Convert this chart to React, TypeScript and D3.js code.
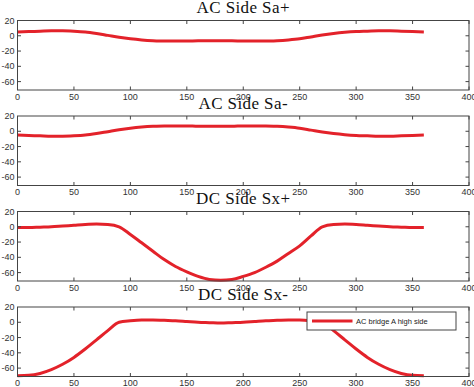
import React from "react";
import * as d3 from "d3";

// angle in degrees, one sample every 10 degrees
const angles = [
  0, 10, 20, 30, 40, 50, 60, 70, 80, 90, 100, 110, 120, 130, 140, 150, 160, 170, 180,
  190, 200, 210, 220, 230, 240, 250, 260, 270, 280, 290, 300, 310, 320, 330, 340, 350, 360,
];

const saPlus = [
  5, 5.5, 6, 6.5, 6.5, 6, 5, 3, 0.5, -2, -4, -5.5, -6.5, -7, -7, -7, -6.5, -6.5, -6.5,
  -6.5, -7, -7, -7, -6.5, -5.5, -4, -1.5, 1, 3, 4.5, 5.5, 6, 6.5, 6.5, 6, 5.5, 5,
];

const saMinus = [
  -5, -5.5, -6, -6.5, -6.5, -6, -5, -3, -0.5, 2, 4, 5.5, 6.5, 7, 7, 7, 6.5, 6.5, 6.5,
  6.5, 7, 7, 7, 6.5, 5.5, 4, 1.5, -1, -3, -4.5, -5.5, -6, -6.5, -6.5, -6, -5.5, -5,
];

const sxPlus = [
  -1, -1, -0.5, 0, 1, 2, 3, 3.5, 3, 0, -10, -21, -32, -43, -52, -59, -65, -69, -70,
  -69, -65, -60, -53, -45, -35, -25, -12, 0, 3, 3.5, 3, 2, 1, 0, -0.5, -1, -1,
];

const sxMinus = [
  -70, -69.5, -67, -62, -55, -46, -35, -23, -11, 0, 2, 3, 3, 2.5, 2, 1, 0, -0.5, -1,
  -0.5, 0, 1, 2, 2.5, 3, 3, 2, 0, -11, -23, -35, -46, -55, -62, -67, -69.5, -70,
];

const titles = ["AC Side Sa+", "AC Side Sa-", "DC Side Sx+", "DC Side Sx-"];
const series = [saPlus, saMinus, sxPlus, sxMinus];
const xTicks = [0, 50, 100, 150, 200, 250, 300, 350, 400];
const yTicks = [-60, -40, -20, 0, 20];
const legendLabel = "AC bridge A high side";

const W = 474;
const H = 387;
const left = 17.5;
const right = 469;
const panelTop = 20.5;
const panelStep = 95.5;
const panelH = 69.5;
const red = "#e3222a";
const axisColor = "#444";

function Panel({ idx }: { idx: number }) {
  const top = panelTop + panelStep * idx;
  const x = d3.scaleLinear().domain([0, 400]).range([left, right]);
  const y = d3.scaleLinear().domain([-71, 20]).range([top + panelH, top]);
  const line = d3
    .line<number>()
    .x((_, i) => x(angles[i]))
    .y((d) => y(d))
    .curve(d3.curveMonotoneX);
  const tl = 3.5;
  return (
    <g>
      <rect x={left} y={top} width={right - left} height={panelH} fill="white" />
      <path d={line(series[idx]) || ""} fill="none" stroke={red} strokeWidth={3} />
      <rect
        x={left}
        y={top}
        width={right - left}
        height={panelH}
        fill="none"
        stroke={axisColor}
        strokeWidth={1}
      />
      {xTicks.map((t) => (
        <g key={"x" + t}>
          <line x1={x(t)} x2={x(t)} y1={top + panelH} y2={top + panelH - tl} stroke={axisColor} />
          <line x1={x(t)} x2={x(t)} y1={top} y2={top + tl} stroke={axisColor} />
          <text
            x={x(t)}
            y={top + panelH + 9.5}
            textAnchor="middle"
            fontFamily="Liberation Sans"
            fontSize={9}
            fill="#333"
          >
            {t}
          </text>
        </g>
      ))}
      {yTicks.map((t) => (
        <g key={"y" + t}>
          {t < 20 && (
            <>
              <line x1={left} x2={left + tl} y1={y(t)} y2={y(t)} stroke={axisColor} />
              <line x1={right} x2={right - tl} y1={y(t)} y2={y(t)} stroke={axisColor} />
            </>
          )}
          <text
            x={left - 3}
            y={y(t) + 3}
            textAnchor="end"
            fontFamily="Liberation Sans"
            fontSize={9}
            fill="#333"
          >
            {t}
          </text>
        </g>
      ))}
      <text
        x={(left + right) / 2}
        y={top - 7.5}
        textAnchor="middle"
        fontFamily="Liberation Serif"
        fontSize={17}
        letterSpacing={0.4}
        fill="#111"
      >
        {titles[idx]}
      </text>
      {idx === 3 && (
        <g>
          <rect x={307} y={top + 5} width={149} height={18} fill="white" stroke={axisColor} />
          <line x1={312} x2={352.5} y1={top + 14} y2={top + 14} stroke={red} strokeWidth={3} />
          <text x={356} y={top + 16.5} fontFamily="Liberation Sans" fontSize={7.5} fill="#222">
            {legendLabel}
          </text>
        </g>
      )}
    </g>
  );
}

export default function App() {
  return (
    <svg
      width={W}
      height={H}
      style={{ position: "absolute", left: 0, top: 0, background: "white" }}
    >
      {series.map((_, i) => (
        <Panel key={i} idx={i} />
      ))}
    </svg>
  );
}
